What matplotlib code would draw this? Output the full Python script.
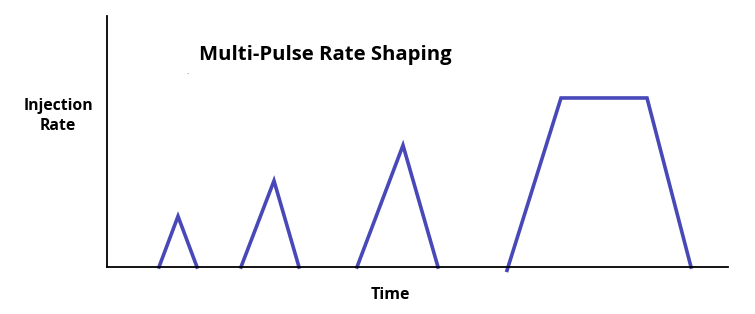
import matplotlib.pyplot as plt

# pulse shapes: time / injection rate (arbitrary units)
p1_t = [5.2, 7.1, 9.0]
p1_r = [0.0, 3.0, 0.0]
p2_t = [13.4, 16.7, 19.2]
p2_r = [0.0, 5.1, 0.0]
p3_t = [25.0, 29.6, 33.1]
p3_r = [0.0, 7.2, 0.0]
p4_t = [40.0, 45.4, 54.0, 58.4]
p4_r = [-0.2, 10.0, 10.0, 0.0]

pulses = [(p1_t, p1_r), (p2_t, p2_r), (p3_t, p3_r), (p4_t, p4_r)]
blue = "#4848b8"

fig = plt.figure(figsize=(7.55, 3.14), dpi=100)
ax = fig.add_axes([107 / 755, 47 / 314, 621 / 755, 251 / 314])

for t, r in pulses:
    ax.plot(t, r, color=blue, lw=2.6, solid_joinstyle="miter", clip_on=False)

ax.set_xlim(0, 62.1)
ax.set_ylim(0, 14.85)
ax.spines["top"].set_visible(False)
ax.spines["right"].set_visible(False)
ax.spines["left"].set_linewidth(1.3)
ax.spines["bottom"].set_linewidth(1.3)
ax.set_xticks([])
ax.set_yticks([])

font = ["Open Sans", "DejaVu Sans"]
fig.text(325 / 755, 1 - 55 / 314, "Multi-Pulse Rate Shaping", ha="center", va="center",
         fontsize=14.6, fontweight="bold", family=font)
fig.text(58 / 755, 1 - 116 / 314, "Injection\nRate", ha="center", va="center",
         fontsize=11.3, fontweight="bold", family=font, linespacing=1.35)
fig.text(390 / 755, 1 - 295 / 314, "Time", ha="center", va="center",
         fontsize=11.5, fontweight="bold", family=font)
fig.text(187 / 755, 1 - 72 / 314, ".", ha="center", va="center", fontsize=5, color="#555555")

fig.savefig("out.png", dpi=100)
